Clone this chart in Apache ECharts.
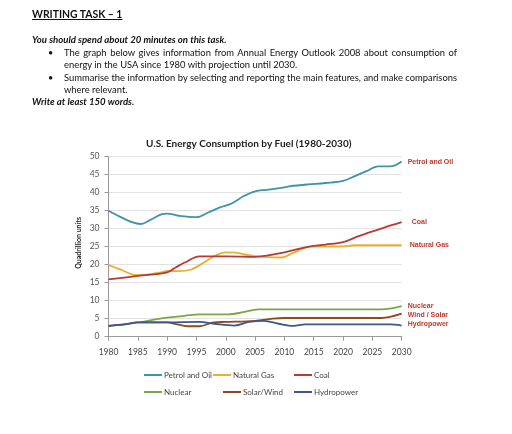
<!DOCTYPE html>
<html>
<head>
<meta charset="utf-8">
<script src="https://cdn.jsdelivr.net/npm/echarts@6/dist/echarts.min.js"></script>
<style>
html,body{margin:0;padding:0;background:#fff;}
#wrap{position:relative;width:512px;height:434px;overflow:hidden;font-family:Lato,"Open Sans",sans-serif;color:#111;}
#chart{position:absolute;left:0;top:0;width:512px;height:434px;}
.t{position:absolute;white-space:nowrap;}
#h1{left:32px;top:8px;font-size:10.4px;font-weight:bold;text-decoration:underline;}
#l1{left:32px;top:34px;font-size:9.6px;font-weight:bold;font-style:italic;}
.b{position:absolute;left:48px;font-size:9px;}
.p{position:absolute;left:64px;width:393px;font-size:9.4px;line-height:11.8px;text-align:justify;white-space:normal;}
#l5{left:32px;top:96px;font-size:9.6px;font-weight:bold;font-style:italic;}
</style>
</head>
<body>
<div id="wrap">
<div id="chart"></div>
<div class="t" id="h1">WRITING TASK – 1</div>
<div class="t" id="l1">You should spend about 20 minutes on this task.</div>
<div class="b" style="top:47px">•</div>
<div class="p" style="top:47px">The graph below gives information from Annual Energy Outlook 2008 about consumption of energy in the USA since 1980 with projection until 2030.</div>
<div class="b" style="top:72px">•</div>
<div class="p" style="top:72px">Summarise the information by selecting and reporting the main features, and make comparisons where relevant.</div>
<div class="t" id="l5">Write at least 150 words.</div>
</div>
<script>
var xTicks = [1980,1985,1990,1995,2000,2005,2010,2015,2020,2025,2030];

var petrolYears  = [1980,1982,1984,1985.5,1987,1989,1990,1992,1995,1997,1999,2001,2003,2005,2007,2010,2011,2014,2017,2020,2022,2024,2026,2028,2030];
var petrolValues = [35,33.3,31.8,31.3,32.3,34,34.2,33.6,33.2,34.5,35.9,37,39,40.4,40.8,41.5,41.8,42.3,42.7,43.3,44.6,46,47.3,47.3,48.7];

var gasYears  = [1980,1982,1984,1985,1987,1989,1990,1992,1994,1996,1998,2000,2002,2003,2005,2007,2009.5,2011.5,2014.5,2020,2022,2030];
var gasValues = [19.9,18.7,17.3,17.1,17.3,17.9,18.3,18.2,18.6,20.3,22.3,23.4,23.3,22.9,22.4,22.1,22.0,23.3,25.0,25.1,25.4,25.4];

var coalYears  = [1980,1985,1990,1991.5,1993,1995.5,2000,2005,2007,2010,2013,2015,2017,2020,2022,2024,2027,2030];
var coalValues = [15.9,16.9,17.9,19.3,20.6,22.3,22.3,22.2,22.5,23.4,24.6,25.2,25.6,26.3,27.5,28.7,30.3,31.8];

var nuclearYears  = [1985.5,1988,1990,1993,1995.5,2000.5,2003,2005.5,2026.5,2030];
var nuclearValues = [4.0,4.8,5.3,5.8,6.2,6.2,6.8,7.6,7.6,8.5];

var solarYears  = [1980,1983,1985,1990,1991.5,1993.5,1995.5,1998,2000,2005,2008,2010,2026.5,2030];
var solarValues = [3.0,3.5,4.0,4.0,3.5,2.9,2.9,4.0,4.1,4.4,5.0,5.2,5.2,6.4];

var hydroYears  = [1980,1983,1985,1990,1995.5,1998,2001.5,2004,2006.5,2009,2011.5,2013.5,2028,2030];
var hydroValues = [3.0,3.5,4.0,4.0,4.1,3.6,3.1,4.1,4.4,3.6,3.0,3.4,3.4,3.1];

var seriesNames = ['Petrol and Oil','Natural Gas','Coal','Nuclear','Solar/Wind','Hydropower'];
var endLabels   = ['Petrol and Oil','Natural Gas','Coal','Nuclear','Wind / Solar','Hydropower'];
var colors = ['#3f93a8','#e8b030','#b83a35','#78a844','#8e4a1c','#3e5690'];

function pairs(xs, ys){ return xs.map(function(x,i){ return [x, ys[i]]; }); }
var allData = [pairs(petrolYears,petrolValues),pairs(gasYears,gasValues),pairs(coalYears,coalValues),
               pairs(nuclearYears,nuclearValues),pairs(solarYears,solarValues),pairs(hydroYears,hydroValues)];
var labelOffsets = [[0,1],[2,0],[4,0],[0,0],[0,1],[0,-1]];

var chart = echarts.init(document.getElementById('chart'), null, {renderer:'canvas'});
var FONT = 'Lato, "Open Sans", sans-serif';
var series = seriesNames.map(function(n,i){
  return {
    name:n, type:'line', data:allData[i], smooth:0.35, symbol:'none',
    lineStyle:{width:1.8,color:colors[i]}, itemStyle:{color:colors[i]},
    z: i===5 ? 5 : 3,
    endLabel:{show:true, formatter:endLabels[i], color:'#c0392b', fontSize:7, fontWeight:'bold',
              fontFamily:'Arial, "Liberation Sans", sans-serif', distance:6, offset:labelOffsets[i]}
  };
});
var legendPos = [[139,366],[208,366],[289,366],[139,383],[218,383],[289,383]];
var legends = seriesNames.map(function(n,i){
  return {data:[n], left:legendPos[i][0], top:legendPos[i][1], icon:'rect', itemWidth:18, itemHeight:2,
          itemGap:2, textStyle:{fontSize:8,color:'#444',fontFamily:FONT,padding:[0,0,0,-3]}, selectedMode:false};
});
chart.setOption({
  animation:false,
  textStyle:{fontFamily:FONT},
  title:{text:'U.S. Energy Consumption by Fuel (1980-2030)', left:141, top:134,
         textStyle:{fontSize:10,fontWeight:'bold',color:'#222',fontFamily:FONT}},
  legend:legends,
  grid:{left:108.5,right:110.3,top:156.7,bottom:97.3,containLabel:false},
  xAxis:{type:'value', min:xTicks[0], max:xTicks[xTicks.length-1], interval:5,
         axisLine:{lineStyle:{color:'#9a9a9a'}}, axisTick:{show:true,length:4,lineStyle:{color:'#9a9a9a'}},
         splitLine:{show:false},
         axisLabel:{fontSize:8.5,color:'#444',margin:11,formatter:function(v){return String(v);}}},
  yAxis:{type:'value', min:0, max:50, interval:5,
         axisLine:{show:true,lineStyle:{color:'#9a9a9a'}}, axisTick:{show:true,length:4,lineStyle:{color:'#9a9a9a'}},
         splitLine:{lineStyle:{color:'#e2e2e2'}},
         axisLabel:{fontSize:8.5,color:'#555',margin:9}},
  graphic:[{type:'text', left:75, top:217, rotation:Math.PI/2,
            style:{text:'Quadrillion units', fontSize:7, fontWeight:'bold', fill:'#222', fontFamily:FONT}}],
  series:series
});
</script>
</body>
</html>
